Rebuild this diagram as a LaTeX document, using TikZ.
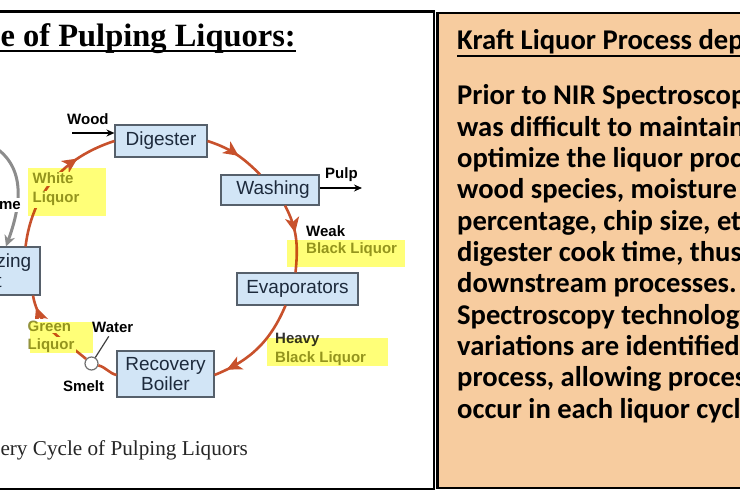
\documentclass[tikz,border=0pt]{standalone}
\usepackage{fontspec}
\setmainfont{Liberation Serif}
\newfontfamily\arialf{Liberation Sans}
\newfontfamily\calib{Carlito}
\usetikzlibrary{arrows.meta,decorations.markings}
\definecolor{redc}{HTML}{C8512C}
\definecolor{boxfill}{HTML}{D2E5F6}
\definecolor{boxline}{HTML}{56606B}
\definecolor{boxtext}{HTML}{1D2A3C}
\definecolor{olive}{HTML}{94943E}
\definecolor{hl}{HTML}{FFFF78}
\definecolor{panel}{HTML}{F7CC9F}
\definecolor{limegrey}{HTML}{8C8C8C}
\begin{document}
\begin{tikzpicture}[x=1pt,y=1pt,
  procbox/.style={draw=boxline, line width=1.1pt, fill=boxfill, text=boxtext,
    font=\arialf\fontsize{19}{20}\selectfont, align=center, inner sep=0pt},
  lbl/.style={font=\arialf\bfseries\fontsize{15}{17}\selectfont, inner sep=0pt, anchor=base west},
  olivelbl/.style={lbl, text=olive},
  cover/.style={fill=white, inner sep=1.5pt},
  flow/.style={draw=redc, line width=2.6pt},
  midtip/.style={postaction={decorate}, decoration={markings,
    mark=at position #1 with {\arrow[redc]{Stealth[length=15pt,width=14pt,inset=4pt]}}}},
  thinarrow/.style={draw=black, line width=1.4pt, -{Stealth[length=8pt,width=7pt]}},
  bodytext/.style={anchor=base west, inner sep=0pt, font=\calib\bfseries\fontsize{28.6}{31}\selectfont},
]
\useasboundingbox (0,0) rectangle (740,-500);
\clip (0,0) rectangle (740,-500);
\fill[white] (0,0) rectangle (740,-500);

% left panel frame
\draw[line width=2.5pt, line join=miter] (0,-11.5) -| (434,-489) -- (0,-489);
% right panel
\draw[line width=2.5pt, fill=panel] (437.5,-13) rectangle (745,-488);

% titles
\node[anchor=base east, inner sep=0pt, font=\bfseries\fontsize{32.5}{36}\selectfont] (ltitle) at (296,-47) {e of Pulping Liquors:};
\draw[line width=1.6pt] ([yshift=-4pt]ltitle.base west) -- ([yshift=-4pt]ltitle.base east);
\node[anchor=base east, inner sep=0pt, text=black!85, font=\fontsize{21.2}{24}\selectfont] (lcap) at (248,-455) {ery Cycle of Pulping Liquors};

% process boxes
\node[procbox, minimum width=92pt, minimum height=32pt] (dig) at (161,-141) {Digester};
\node[procbox, minimum width=98pt, minimum height=30pt] (wash) at (270,-190) {\hspace*{6pt}Washing};
\node[procbox, minimum width=121pt, minimum height=32pt] (evap) at (297.5,-289) {Evaporators};
\node[procbox, minimum width=97pt, minimum height=46pt] (rec) at (165.5,-374) {Recovery\\Boiler};
\node[procbox, minimum width=120pt, minimum height=48pt] (caus) at (-20,-271) {Causticizing\\Plant};
\node[circle, draw=limegrey!80!black, fill=white, line width=1.2pt, minimum size=13pt, inner sep=0pt] (mix) at (91.5,-363.5) {};

% cycle
\draw[flow, midtip=0.72] ([xshift=-15pt]caus.north east) to[out=83,in=198] (dig.west);
\draw[flow, midtip=0.55] (dig.east) to[out=-18,in=135] ([xshift=-10pt]wash.north);
\draw[flow, midtip=0.42] ([xshift=15pt]wash.south) to[out=-62,in=84] ([xshift=-2pt]evap.north);
\draw[flow, midtip=0.87] ([xshift=-12pt]evap.south) to[out=247,in=22] ([yshift=-1pt]rec.east);
\draw[flow] ([yshift=-1pt]rec.west) to[out=165,in=-15] (mix);
\draw[flow, midtip=0.86] (mix) to[out=140,in=-80] ([xshift=53pt]caus.south);

% lime loop
\coordinate (limein) at (-4,-148);
\draw[draw=limegrey, line width=3pt, -{Stealth[length=11pt,width=11pt]}] (limein) to[out=-35,in=70] ([xshift=26pt]caus.north);

% inputs / outputs
\coordinate (woodin) at (72,-133);
\draw[thinarrow] (woodin) -- ([yshift=8pt]dig.west);
\coordinate (pulpout) at (362,-188);
\draw[thinarrow] ([yshift=2pt]wash.east) -- (pulpout);

% labels
\node[lbl] (wood) at (67,-125) {Wood};
\node[lbl] (pulp) at (325,-179) {Pulp};
\node[olivelbl, cover] (white1) at (31,-184) {White};
\node[olivelbl, cover] (white2) at (31,-203) {Liquor};
\node[lbl] (weak) at (306,-237) {Weak};
\node[olivelbl] (wbl) at (306,-254) {Black Liquor};
\node[lbl, text=black!80] (heavy) at (275,-343) {Heavy};
\node[olivelbl] (hbl) at (275,-362) {Black Liquor};
\node[olivelbl, cover] (green1) at (26,-331) {Green};
\node[olivelbl, cover] (green2) at (26,-349) {Liquor};
\node[lbl] (water) at (92,-332) {Water};
\node[lbl] (smelt) at (63,-391) {Smelt};
\node[lbl, cover] (lime) at (-16,-210) {Lime};
\draw[draw=black!75, line width=1.2pt] ([xshift=-4pt,yshift=-4pt]water.south) -- (mix);

% highlights
\begin{scope}[blend mode=multiply]
\fill[hl] (28,-168) rectangle (106,-216);
\fill[hl] (287,-240) rectangle (405,-267);
\fill[hl] (267,-338) rectangle (388,-366);
\fill[hl] (30,-322) rectangle (93,-353);
\end{scope}

% right panel text
\node[bodytext] (ktitle) at (457,-50) {Kraft Liquor Process dep};
\draw[line width=1.5pt] ([yshift=-6pt]ktitle.base west) -- ([yshift=-6pt]ktitle.base east);
\foreach \t [count=\i] in {{Prior to NIR Spectroscopy},{was difficult to maintain},{optimize the liquor process},{wood species, moisture},{percentage, chip size, etc.},{digester cook time, thus},{downstream processes.},{Spectroscopy technology},{variations are identified},{process, allowing process},{occur in each liquor cycle}}
  \node[bodytext] (body\i) at (457,{-105-31.3*(\i-1)}) {\t};
\end{tikzpicture}
\end{document}
